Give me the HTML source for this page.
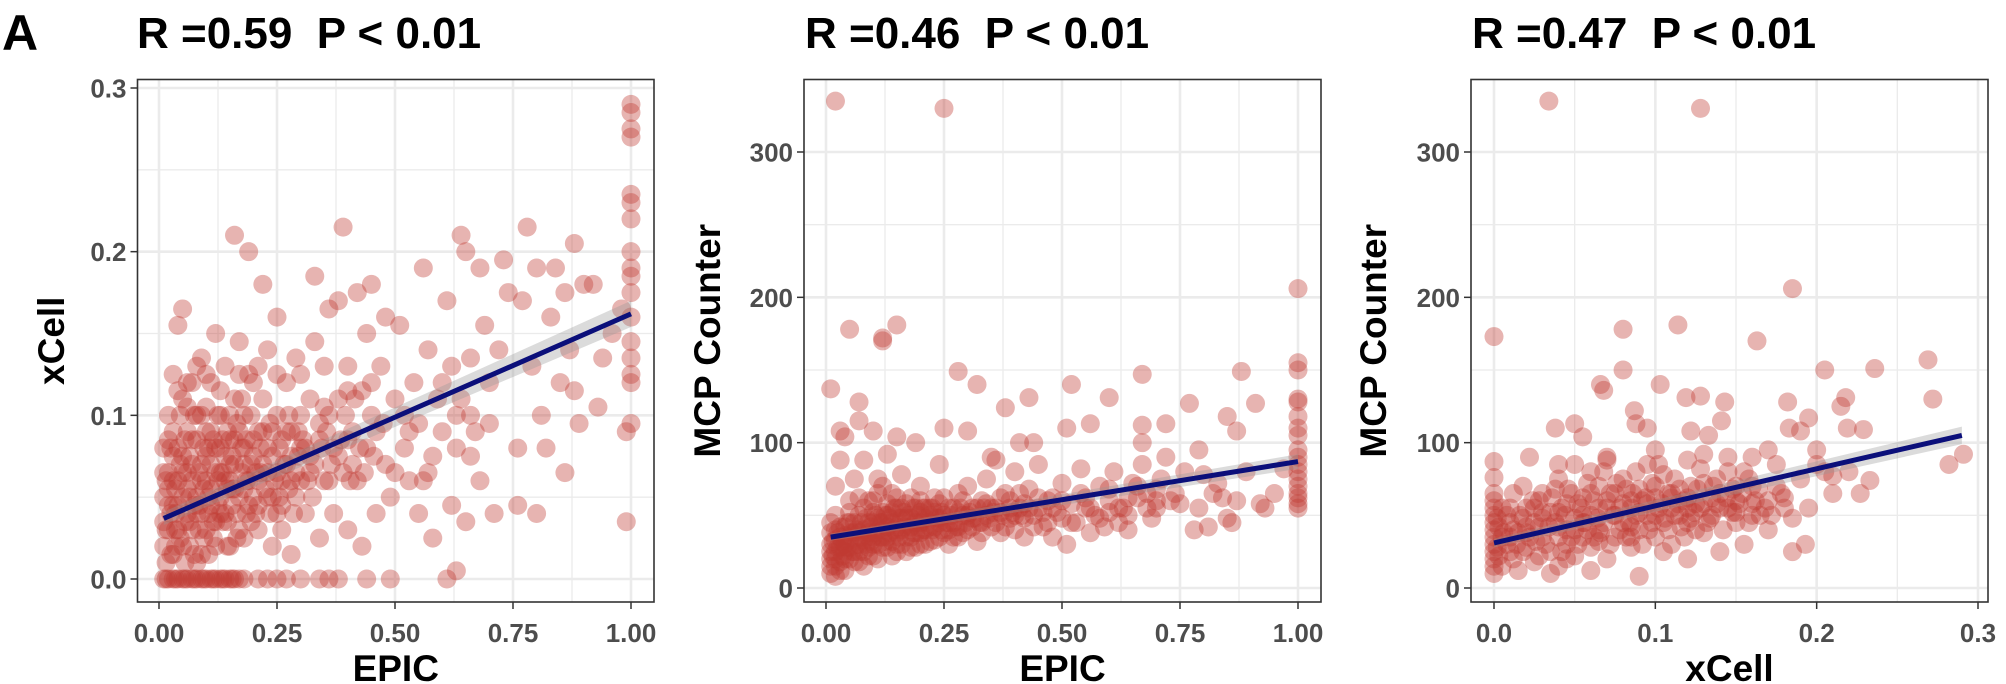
<!DOCTYPE html>
<html><head><meta charset="utf-8"><style>
html,body{margin:0;padding:0;background:#fff;}
svg{display:block;font-family:"Liberation Sans",Arial,sans-serif;}
</style></head><body>
<svg id="fig" width="2006" height="684" viewBox="0 0 2006 684">
<text x="2" y="50" font-size="50" font-weight="bold">A</text>
</svg>
<script>
// ---------- data ----------
const titles = ["R =0.59  P < 0.01", "R =0.46  P < 0.01", "R =0.47  P < 0.01"];
const xTitles = ["EPIC", "EPIC", "xCell"];
const yTitles = ["xCell", "MCP Counter", "MCP Counter"];
const xTicks1 = [0, 0.25, 0.5, 0.75, 1.0];
const xTickLabels1 = ["0.00", "0.25", "0.50", "0.75", "1.00"];
const yTicks1 = [0, 0.1, 0.2, 0.3];
const yTickLabels1 = ["0.0", "0.1", "0.2", "0.3"];
const xTicks3 = [0, 0.1, 0.2, 0.3];
const xTickLabels3 = ["0.0", "0.1", "0.2", "0.3"];
const yTicksMcp = [0, 100, 200, 300];
const yTickLabelsMcp = ["0", "100", "200", "300"];
const fit1 = [[0.01, 0.037], [1.0, 0.162]];
const fit2 = [[0.01, 35], [1.0, 87]];
const fit3 = [[0.0, 31], [0.29, 105]];

const points1 = [
[0.01,0],[0.02,0],[0.03,0],[0.04,0],[0.05,0],[0.06,0],[0.07,0],[0.08,0],[0.09,0],[0.10,0],[0.11,0],[0.12,0],[0.13,0],[0.14,0],[0.15,0],[0.16,0],[0.17,0],[0.18,0],[0.21,0],[0.23,0],[0.25,0],[0.27,0],[0.30,0],[0.34,0],[0.36,0],[0.38,0],[0.44,0],[0.49,0],[0.61,0],[0.63,0.005],
[0.015,0],[0.035,0],[0.055,0],[0.075,0],[0.095,0],[0.115,0],[0.135,0],[0.155,0],
[0.01,0.02],[0.01,0.05],[0.01,0.08],[0.02,0.03],[0.02,0.065],[0.02,0.1],[0.03,0.015],[0.03,0.045],[0.03,0.09],[0.04,0.03],[0.04,0.06],[0.04,0.155],[0.05,0.02],[0.05,0.075],[0.05,0.11],[0.05,0.165],[0.06,0.04],[0.06,0.09],[0.07,0.03],[0.07,0.06],[0.07,0.12],[0.08,0.01],[0.08,0.05],[0.08,0.1],[0.09,0.07],[0.09,0.135],[0.10,0.03],[0.10,0.06],[0.10,0.09],[0.11,0.045],[0.11,0.12],[0.12,0.02],[0.12,0.08],[0.12,0.15],[0.13,0.065],[0.13,0.1],[0.14,0.04],[0.14,0.13],[0.15,0.02],[0.15,0.085],[0.16,0.055],[0.16,0.11],[0.16,0.21],[0.17,0.03],[0.17,0.145],[0.18,0.07],[0.18,0.1],[0.19,0.045],[0.19,0.125],[0.19,0.2],[0.20,0.085],[0.21,0.03],[0.21,0.06],[0.22,0.11],[0.22,0.18],[0.23,0.05],[0.23,0.14],[0.24,0.075],[0.24,0.02],[0.25,0.1],[0.25,0.16],[0.26,0.045],[0.27,0.12],[0.27,0.07],[0.28,0.015],[0.28,0.09],[0.29,0.135],[0.30,0.06],[0.30,0.1],[0.31,0.04],[0.32,0.11],[0.32,0.075],[0.33,0.185],[0.33,0.145],[0.34,0.025],[0.34,0.095],[0.35,0.13],[0.35,0.06],[0.36,0.165],[0.37,0.08],[0.37,0.04],[0.38,0.11],[0.38,0.17],[0.39,0.215],[0.39,0.065],[0.40,0.13],[0.40,0.03],[0.41,0.09],[0.42,0.175],[0.42,0.06],[0.43,0.115],[0.43,0.02],[0.44,0.15],[0.44,0.08],[0.45,0.18],[0.45,0.1],[0.46,0.04],[0.47,0.13],[0.48,0.07],[0.48,0.16],[0.49,0.05],[0.50,0.11],[0.51,0.155],[0.52,0.08],[0.53,0.06],[0.54,0.12],[0.55,0.095],[0.55,0.04],[0.56,0.19],[0.57,0.14],[0.57,0.065],[0.58,0.025],[0.59,0.11],[0.60,0.09],[0.61,0.17],[0.62,0.045],[0.62,0.13],[0.63,0.08],[0.64,0.21],[0.64,0.11],[0.65,0.2],[0.65,0.035],[0.66,0.135],[0.67,0.09],[0.68,0.19],[0.68,0.06],[0.69,0.155],[0.70,0.12],[0.71,0.04],[0.72,0.14],[0.73,0.195],[0.74,0.175],[0.76,0.08],[0.76,0.045],[0.77,0.17],[0.78,0.215],[0.79,0.13],[0.80,0.19],[0.80,0.04],[0.81,0.1],[0.82,0.08],[0.83,0.16],[0.84,0.19],[0.85,0.12],[0.86,0.175],[0.86,0.065],[0.87,0.14],[0.88,0.115],[0.88,0.205],[0.89,0.095],[0.90,0.18],[0.92,0.18],[0.93,0.105],[0.94,0.135],[0.96,0.15],[0.98,0.165],[0.99,0.035],[0.99,0.09],
[1.0,0.12],[1.0,0.125],[1.0,0.135],[1.0,0.145],[1.0,0.16],[1.0,0.175],[1.0,0.185],[1.0,0.19],[1.0,0.2],[1.0,0.22],[1.0,0.23],[1.0,0.235],[1.0,0.27],[1.0,0.275],[1.0,0.285],[1.0,0.29],[1.0,0.095],
[0.02,0.045],[0.04,0.08],[0.06,0.065],[0.08,0.085],[0.09,0.04],[0.11,0.07],[0.13,0.05],[0.14,0.075],[0.15,0.06],[0.17,0.09],[0.2,0.05],[0.22,0.07],[0.24,0.05],[0.26,0.085],[0.29,0.05],[0.31,0.08],[0.1,0.105],[0.06,0.105],[0.03,0.125],[0.2,0.12],[0.15,0.1],[0.12,0.035],[0.09,0.015],[0.18,0.025],[0.26,0.03],
[0.01,0.035],[0.03,0.06],[0.05,0.05],[0.07,0.085],[0.09,0.1],[0.11,0.09],[0.13,0.08],[0.16,0.07],[0.18,0.055],[0.21,0.09],[0.23,0.08],[0.25,0.065],[0.28,0.06],[0.33,0.07],[0.36,0.1],[0.41,0.07],[0.46,0.09],[0.52,0.1],[0.58,0.075],[0.66,0.1],
[0.015,0.06],[0.025,0.08],[0.035,0.02],[0.045,0.1],[0.055,0.035],[0.065,0.075],[0.075,0.045],[0.085,0.065],[0.095,0.055],[0.105,0.08],[0.115,0.025],[0.125,0.1],[0.135,0.035],[0.145,0.055],[0.155,0.075],[0.165,0.04],[0.175,0.065],[0.185,0.085],[0.195,0.07],[0.205,0.04],[0.215,0.08],[0.225,0.055],[0.235,0.095],[0.245,0.06],[0.255,0.05],[0.265,0.07],[0.275,0.1],[0.285,0.04],[0.295,0.075],[0.305,0.085],[0.315,0.06],[0.325,0.05],[0.345,0.08],[0.355,0.09],[0.365,0.07],[0.385,0.085],[0.395,0.1],[0.405,0.06],[0.415,0.11],[0.425,0.08],[0.435,0.065],[0.455,0.075],[0.475,0.095],[0.015,0.01],[0.025,0.015],[0.035,0.04],[0.045,0.025],[0.055,0.01],[0.065,0.02],[0.075,0.015],[0.085,0.03],[0.095,0.025],[0.105,0.015],[0.115,0.035],[0.125,0.06],[0.135,0.085],[0.145,0.02],[0.155,0.045],[0.165,0.095],[0.175,0.11],[0.185,0.04],[0.195,0.1],[0.205,0.065],[0.02,0.085],[0.04,0.115],[0.06,0.12],[0.08,0.13],[0.1,0.125],[0.13,0.115],[0.17,0.125],[0.21,0.13],[0.25,0.125],[0.3,0.125],[0.35,0.105],[0.4,0.115],[0.45,0.12],[0.5,0.065],[0.53,0.09],[0.56,0.06],[0.6,0.12],[0.63,0.1],[0.66,0.075],[0.7,0.095],
[0.01,0.065],[0.02,0.055],[0.03,0.075],[0.04,0.045],[0.05,0.065],[0.06,0.055],[0.07,0.07],[0.08,0.04],[0.09,0.06],[0.1,0.075],[0.11,0.055],[0.12,0.065],[0.13,0.04],[0.14,0.06],[0.15,0.07],[0.16,0.085],[0.17,0.05],[0.18,0.08],[0.19,0.06],[0.2,0.075],[0.21,0.045],[0.22,0.09],[0.23,0.065],[0.24,0.09],[0.25,0.04],[0.26,0.06],[0.27,0.09],[0.28,0.075],[0.29,0.065],[0.3,0.08],[0.32,0.065],[0.34,0.085],[0.36,0.06],[0.38,0.075],[0.4,0.085],[0.015,0.03],[0.025,0.04],[0.035,0.055],[0.045,0.07],[0.055,0.085],[0.065,0.05],[0.075,0.1],[0.085,0.045],[0.095,0.08],[0.105,0.05],[0.115,0.085],[0.125,0.045],[0.135,0.065],[0.145,0.09],[0.155,0.055],[0.165,0.025],[0.175,0.08],[0.185,0.06],[0.195,0.035],[0.215,0.065],[0.235,0.04],[0.255,0.08],[0.275,0.055],[0.295,0.09],[0.035,0.03],[0.065,0.035],[0.105,0.04],[0.145,0.035]
];

const points2 = [
[0.02,335],[0.25,330],[0.05,178],[0.12,172],[0.12,170],[0.15,181],[0.01,137],[1.0,206],[0.28,149],[0.32,140],[0.38,124],[0.43,131],[0.52,140],[0.6,131],[0.67,147],[0.88,149],[0.77,127],[0.91,127],[0.85,118],[0.07,128],[0.07,115],[0.03,108],[0.04,104],[0.10,108],[0.25,110],[0.30,108],[0.15,104],[0.19,100],[0.41,100],[0.51,110],[0.56,113],[0.67,112],[0.72,113],[0.67,100],[0.79,95],[0.87,108],[0.44,100],[0.35,90],
[1.0,155],[1.0,150],[1.0,130],[1.0,128],[1.0,118],[1.0,110],[1.0,105],[1.0,95],[1.0,90],[1.0,85],[1.0,80],[1.0,75],[1.0,70],[1.0,65],[1.0,62],[1.0,58],[1.0,55],
[0.01,10],[0.01,20],[0.01,30],[0.01,45],[0.02,15],[0.02,25],[0.02,70],[0.03,12],[0.03,35],[0.03,88],[0.04,20],[0.04,42],[0.05,28],[0.05,60],[0.06,18],[0.06,38],[0.06,75],[0.07,25],[0.07,50],[0.08,15],[0.08,33],[0.08,88],[0.09,22],[0.09,45],[0.10,30],[0.10,60],[0.11,20],[0.11,40],[0.11,75],[0.12,28],[0.12,52],[0.13,35],[0.13,92],[0.14,22],[0.14,45],[0.14,65],[0.15,30],[0.15,55],[0.16,40],[0.16,78],[0.17,25],[0.17,48],[0.18,35],[0.18,62],[0.19,28],[0.19,45],[0.20,38],[0.20,70],[0.21,30],[0.21,55],[0.22,42],[0.23,33],[0.23,62],[0.24,48],[0.24,85],[0.25,38],[0.26,55],[0.26,30],[0.27,45],[0.28,65],[0.28,35],[0.29,50],[0.30,40],[0.30,70],[0.31,55],[0.32,32],[0.33,60],[0.33,45],[0.34,75],[0.35,42],[0.36,55],[0.36,88],[0.37,38],[0.38,65],[0.39,48],[0.40,80],[0.40,40],[0.41,55],[0.42,35],[0.43,68],[0.44,50],[0.45,85],[0.46,42],[0.47,60],[0.48,35],[0.49,52],[0.50,72],[0.51,30],[0.52,58],[0.53,45],[0.54,82],[0.55,62],[0.56,38],[0.57,50],[0.58,70],[0.59,42],[0.60,60],[0.61,80],[0.62,45],[0.63,55],[0.64,40],[0.65,72],[0.66,62],[0.67,85],[0.68,55],[0.69,48],[0.70,68],[0.71,75],[0.72,90],[0.73,60],[0.74,65],[0.75,58],[0.76,80],[0.78,40],[0.79,55],[0.80,78],[0.81,42],[0.82,65],[0.83,72],[0.84,62],[0.85,48],[0.86,45],[0.87,60],[0.89,80],[0.92,58],[0.93,55],[0.95,65],[0.97,82],
[0.02,40],[0.04,30],[0.05,45],[0.07,38],[0.09,35],[0.10,45],[0.12,40],[0.13,50],[0.15,42],[0.16,55],[0.18,48],[0.20,52],[0.22,55],[0.24,58],[0.26,45],[0.28,52],[0.31,48],[0.34,58],[0.37,52],[0.39,60],[0.42,58],[0.45,55],[0.48,62],[0.50,48],[0.55,55],[0.60,52],[0.64,62],[0.70,60],
[0.01,15],[0.01,25],[0.01,38],[0.02,8],[0.02,20],[0.02,33],[0.02,50],[0.03,18],[0.03,28],[0.03,42],[0.04,12],[0.04,25],[0.04,36],[0.05,20],[0.05,33],[0.05,52],[0.06,25],[0.06,45],[0.07,18],[0.07,30],[0.07,62],[0.08,25],[0.08,40],[0.08,55],[0.09,28],[0.09,38],[0.09,60],[0.1,22],[0.1,35],[0.1,52],[0.11,30],[0.11,48],[0.11,65],[0.12,35],[0.12,45],[0.12,70],[0.13,28],[0.13,42],[0.13,58],[0.14,32],[0.14,52],[0.15,25],[0.15,38],[0.15,62],[0.16,30],[0.16,48],[0.17,35],[0.17,58],[0.18,28],[0.18,42],[0.19,38],[0.19,55],[0.2,30],[0.2,45],[0.2,60],[0.21,40],[0.21,48],[0.22,32],[0.22,50],[0.23,42],[0.23,52],[0.24,35],[0.24,45],[0.25,50],[0.25,62],[0.26,40],[0.27,35],[0.27,55],[0.28,42],[0.29,38],[0.29,60],[0.3,50],[0.31,42],[0.32,55],[0.33,38],[0.34,50],[0.35,55],[0.36,45],[0.37,62],[0.38,42],[0.39,55],[0.4,50],[0.41,65],[0.42,48],[0.43,55],[0.44,42],[0.45,62],[0.46,52],[0.47,45],[0.48,55],[0.5,60],[0.52,45],[0.54,65],[0.56,55],[0.58,48],[0.6,68],[0.62,55],[0.64,50],[0.66,70],[0.68,65],[0.7,55],
[0.015,22],[0.015,32],[0.025,28],[0.025,38],[0.035,22],[0.035,32],[0.045,28],[0.045,45],[0.055,25],[0.055,38],[0.065,30],[0.065,40],[0.075,35],[0.075,45],[0.085,30],[0.085,48],[0.095,32],[0.095,42],[0.105,38],[0.105,50],[0.115,35],[0.115,45],[0.125,32],[0.125,50],[0.135,38],[0.135,48],[0.145,40],[0.145,55],[0.155,35],[0.155,48],[0.165,42],[0.165,52],[0.175,40],[0.175,50],[0.185,38],[0.185,55],[0.195,42],[0.195,50],[0.205,40],[0.205,55],[0.215,45],[0.225,40],[0.225,55],[0.235,48],[0.245,40],[0.245,52],[0.255,45],[0.265,50],[0.275,42],[0.285,55],[0.295,45],[0.305,52],[0.315,48],[0.325,45],[0.335,55],[0.345,48],[0.355,52],[0.375,50],[0.395,52],[0.415,50]
];

const points3 = [
[0.034,335],[0.128,330],[0.0,173],[0.08,178],[0.114,181],[0.163,170],[0.185,206],[0.08,150],[0.066,140],[0.068,136],[0.103,140],[0.119,131],[0.128,132],[0.143,128],[0.141,115],[0.182,128],[0.205,150],[0.236,151],[0.269,157],[0.272,130],[0.218,131],[0.215,125],[0.0,87],[0.0,76],[0.038,110],[0.05,113],[0.055,104],[0.087,122],[0.088,113],[0.095,110],[0.122,108],[0.133,105],[0.195,117],[0.219,110],[0.229,109],[0.282,85],[0.291,92],[0.233,74],[0.227,65],[0.185,25],[0.193,30],[0.21,77],[0.183,110],[0.19,108],[0.17,95],[0.16,90],[0.2,85],[0.175,70],[0.155,80],[0.17,60],[0.18,55],
[0.0,10],[0.0,20],[0.0,30],[0.0,40],[0.0,50],[0.0,60],[0.005,15],[0.005,35],[0.005,55],[0.01,25],[0.01,45],[0.012,65],[0.015,12],[0.015,38],[0.02,28],[0.02,55],[0.022,90],[0.025,18],[0.025,45],[0.03,35],[0.03,65],[0.035,25],[0.035,52],[0.04,15],[0.04,42],[0.04,75],[0.045,30],[0.045,58],[0.05,22],[0.05,48],[0.05,85],[0.055,35],[0.055,62],[0.06,28],[0.06,50],[0.06,80],[0.065,40],[0.065,70],[0.07,20],[0.07,55],[0.07,88],[0.075,35],[0.075,65],[0.08,45],[0.08,75],[0.085,28],[0.085,55],[0.09,40],[0.09,8],[0.09,68],[0.095,50],[0.095,85],[0.1,35],[0.1,62],[0.105,45],[0.105,78],[0.11,55],[0.11,30],[0.115,68],[0.12,45],[0.12,88],[0.125,58],[0.13,38],[0.13,72],[0.135,50],[0.14,25],[0.14,65],[0.145,80],[0.15,45],[0.15,60],[0.155,30],[0.16,70],[0.165,50],[0.17,40],[0.175,85],[0.18,62],[0.185,48],[0.19,75],[0.195,55],[0.2,95],[0.205,80],[0.21,65],[0.22,80],[0.06,12],[0.035,10],
[0.01,35],[0.02,42],[0.03,48],[0.04,52],[0.045,40],[0.055,45],[0.065,55],[0.075,50],[0.085,60],[0.095,58],[0.1,50],[0.11,62],[0.12,55],[0.125,40],[0.135,62],[0.145,55],[0.15,70],[0.16,58],[0.085,42],[0.065,32],[0.045,20],[0.105,25],[0.12,20],
[0.0,15],[0.0,25],[0.0,35],[0.0,45],[0.0,55],[0.0,65],[0.003,22],[0.003,42],[0.008,30],[0.008,50],[0.012,20],[0.012,40],[0.018,25],[0.018,48],[0.018,70],[0.022,35],[0.028,22],[0.028,42],[0.028,60],[0.032,30],[0.038,45],[0.038,68],[0.042,25],[0.042,55],[0.048,35],[0.048,65],[0.052,30],[0.052,58],[0.058,40],[0.058,72],[0.062,35],[0.062,60],[0.068,45],[0.068,80],[0.072,30],[0.072,65],[0.078,40],[0.078,55],[0.082,35],[0.082,68],[0.088,50],[0.088,80],[0.092,30],[0.092,60],[0.098,45],[0.098,72],[0.102,55],[0.102,85],[0.108,40],[0.108,65],[0.112,50],[0.112,75],[0.118,35],[0.118,60],[0.122,48],[0.122,70],[0.128,55],[0.128,82],[0.132,45],[0.138,58],[0.138,75],[0.142,40],[0.148,52],[0.148,68],[0.152,58],[0.158,45],[0.158,75],[0.162,60],[0.168,55],[0.172,50],[0.178,65],[0.04,85],[0.07,90],[0.1,95],[0.13,92],[0.145,90],
[0.002,28],[0.002,48],[0.006,38],[0.01,55],[0.014,30],[0.016,50],[0.02,38],[0.024,60],[0.026,32],[0.03,52],[0.034,42],[0.036,62],[0.04,35],[0.044,50],[0.046,68],[0.05,40],[0.054,55],[0.056,45],[0.06,65],[0.064,48],[0.066,38],[0.07,60],[0.074,50],[0.076,72],[0.08,58],[0.084,45],[0.086,65],[0.09,52],[0.094,62],[0.096,40],[0.1,70],[0.104,58],[0.106,48],[0.11,65],[0.114,58],[0.116,42],[0.12,62],[0.124,52],[0.126,68],[0.13,58],[0.134,48],[0.136,70],[0.14,55],[0.144,62],[0.15,52],[0.154,65],[0.16,50],[0.164,68],[0.025,55],[0.055,50],[0.085,35],[0.115,50]
];

// ---------- layout ----------
const panels = [
  {id:1, L:137.5, R:654, T:79.5, B:602, xd:[0,1], xp:[159,631], yd:[0,0.3], yp:[579,88], xTicks:xTicks1, xLab:xTickLabels1, yTicks:yTicks1, yLab:yTickLabels1, xMinor:[0.125,0.375,0.625,0.875], yMinor:[0.05,0.15,0.25], pts:points1, fit:fit1, band:0.004, ytx:64, tx:137},
  {id:2, L:804, R:1321, T:79.5, B:602, xd:[0,1], xp:[826,1298], yd:[0,300], yp:[588,152], xTicks:xTicks1, xLab:xTickLabels1, yTicks:yTicksMcp, yLab:yTickLabelsMcp, xMinor:[0.125,0.375,0.625,0.875], yMinor:[50,150,250], pts:points2, fit:fit2, band:2.5, ytx:720, tx:805},
  {id:3, L:1471, R:1988, T:79.5, B:602, xd:[0,0.3], xp:[1494,1978], yd:[0,300], yp:[588,152], xTicks:xTicks3, xLab:xTickLabels3, yTicks:yTicksMcp, yLab:yTickLabelsMcp, xMinor:[0.05,0.15,0.25], yMinor:[50,150,250], pts:points3, fit:fit3, band:3, ytx:1386, tx:1472}
];

const NS = "http://www.w3.org/2000/svg";
const svg = document.getElementById("fig");
function mk(tag, attrs, parent){
  const e = document.createElementNS(NS, tag);
  for (const k in attrs) e.setAttribute(k, attrs[k]);
  parent.appendChild(e);
  return e;
}

panels.forEach((p, i) => {
  const sx = v => p.xp[0] + (v - p.xd[0]) / (p.xd[1] - p.xd[0]) * (p.xp[1] - p.xp[0]);
  const sy = v => p.yp[0] + (v - p.yd[0]) / (p.yd[1] - p.yd[0]) * (p.yp[1] - p.yp[0]);
  const g = mk("g", {}, svg);
  
  

  p.xMinor.forEach(v => {
    const l = mk("line", {x1:sx(v), x2:sx(v), y1:p.T, y2:p.B, stroke:"#ebebeb", "stroke-width":1.3}, g);
    
    
  });
  p.yMinor.forEach(v => {
    const l = mk("line", {x1:p.L, x2:p.R, y1:sy(v), y2:sy(v), stroke:"#ebebeb", "stroke-width":1.3}, g);
    
    
  });
  p.xTicks.forEach((v, k) => {
    const l = mk("line", {x1:sx(v), x2:sx(v), y1:p.T, y2:p.B, stroke:"#ebebeb", "stroke-width":2.6}, g);
    
    
    const t = mk("line", {x1:sx(v), x2:sx(v), y1:p.B, y2:p.B+7, stroke:"#333", "stroke-width":1.5}, g);
    
    
    const tx = mk("text", {x:sx(v), y:642, "text-anchor":"middle", "font-size":26, "font-weight":"bold", fill:"#4d4d4d"}, g);
    tx.textContent = p.xLab[k];
    
    
  });
  p.yTicks.forEach((v, k) => {
    const l = mk("line", {x1:p.L, x2:p.R, y1:sy(v), y2:sy(v), stroke:"#ebebeb", "stroke-width":2.6}, g);
    
    
    const t = mk("line", {x1:p.L-7, x2:p.L, y1:sy(v), y2:sy(v), stroke:"#333", "stroke-width":1.5}, g);
    
    
    const tx = mk("text", {x:p.L-11, y:sy(v)+9.5, "text-anchor":"end", "font-size":26, "font-weight":"bold", fill:"#4d4d4d"}, g);
    tx.textContent = p.yLab[k];
    
    
  });

  const clipId = "clip" + p.id;
  const cp = mk("clipPath", {id:clipId}, g);
  mk("rect", {x:p.L, y:p.T, width:p.R-p.L, height:p.B-p.T}, cp);
  const pg = mk("g", {"clip-path":"url(#" + clipId + ")"}, g);
  p.pts.forEach(pt => {
    const c = mk("circle", {cx:sx(pt[0]), cy:sy(pt[1]), r:9.5, fill:"rgb(192,57,50)", "fill-opacity":0.38}, pg);
    
    
  });

  const a = p.fit[0], b = p.fit[1];
  const band = mk("polygon", {points:
    sx(a[0])+","+sy(a[1]+p.band)+" "+sx(b[0])+","+sy(b[1]+p.band*2)+" "+sx(b[0])+","+sy(b[1]-p.band*2)+" "+sx(a[0])+","+sy(a[1]-p.band),
    fill:"#999", "fill-opacity":0.35}, g);
  
  
  const fl = mk("line", {x1:sx(a[0]), y1:sy(a[1]), x2:sx(b[0]), y2:sy(b[1]), stroke:"#0b0f7a", "stroke-width":5}, g);
  
  

  const br = mk("rect", {x:p.L, y:p.T, width:p.R-p.L, height:p.B-p.T, fill:"none", stroke:"#333", "stroke-width":1.6}, g);
  
  

  const tt = mk("text", {x:p.tx, y:48, "font-size":44, "font-weight":"bold", fill:"#000"}, g);
  tt.setAttributeNS("http://www.w3.org/XML/1998/namespace", "xml:space", "preserve");
  tt.textContent = titles[i];
  
  
  const xt = mk("text", {x:(p.L+p.R)/2, y:681, "text-anchor":"middle", "font-size":37, "font-weight":"bold", fill:"#000"}, g);
  xt.textContent = xTitles[i];
  
  
  const cy = (p.T + p.B) / 2;
  const yt = mk("text", {x:p.ytx, y:cy, "text-anchor":"middle", "font-size":37, "font-weight":"bold", fill:"#000", transform:"rotate(-90 " + p.ytx + " " + cy + ")"}, g);
  yt.textContent = yTitles[i];
  
  
});
</script>
</body></html>
